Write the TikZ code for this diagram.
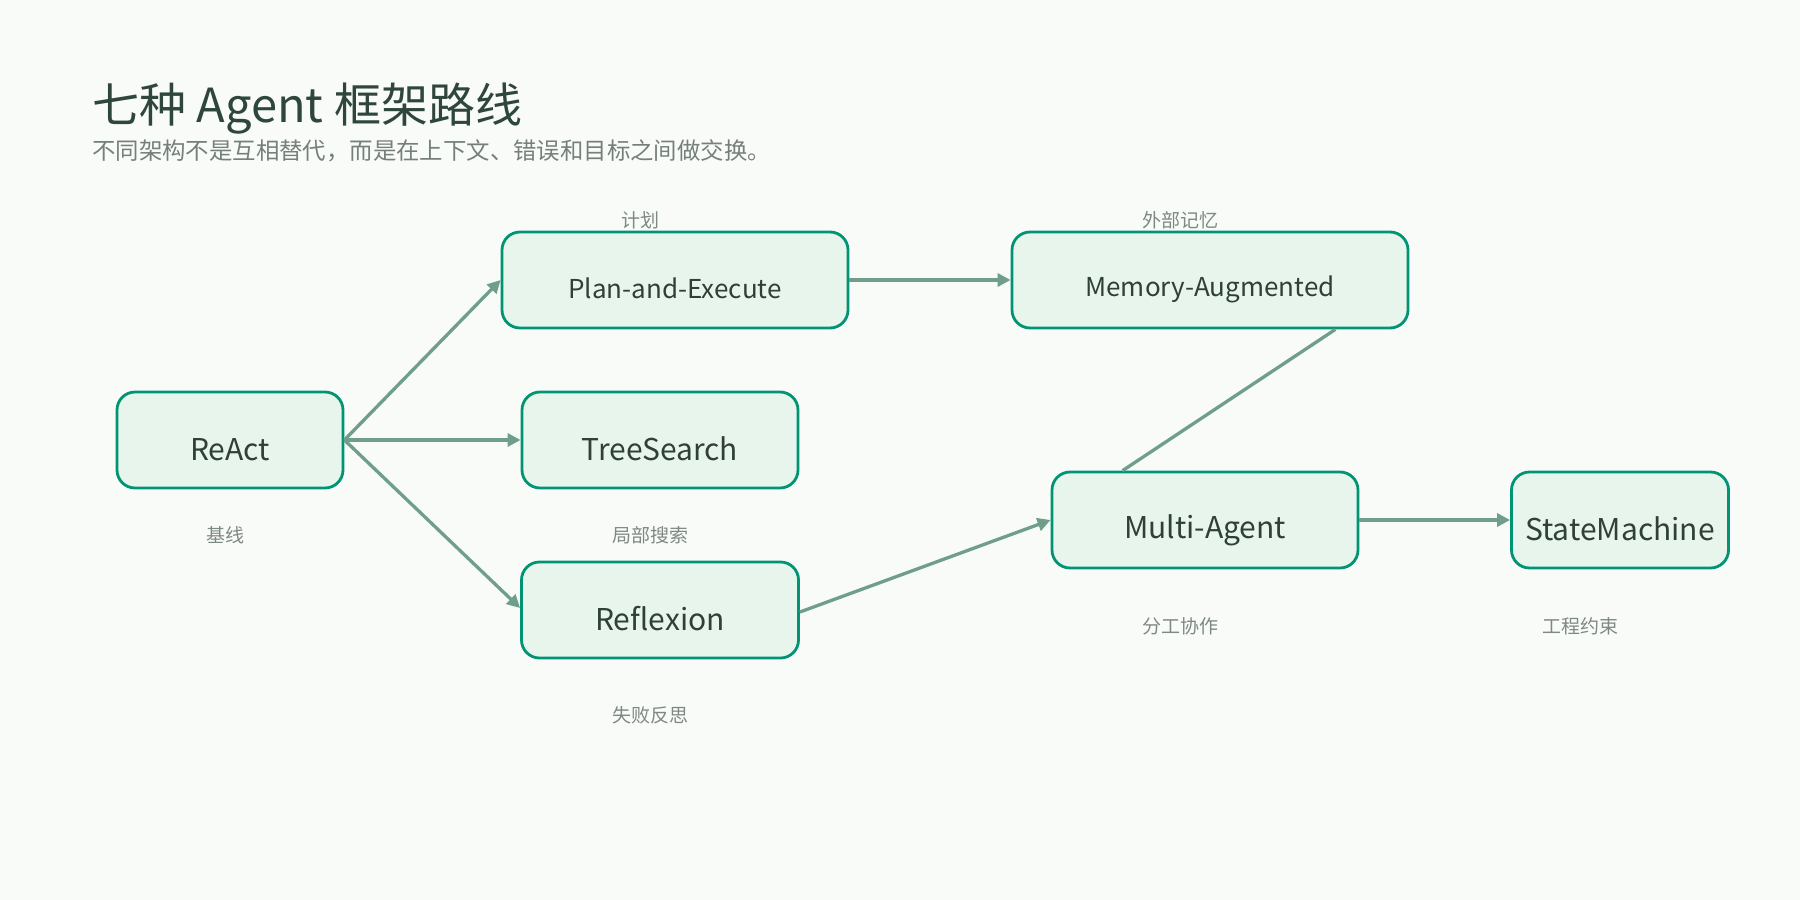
\documentclass[tikz,border=0pt]{standalone}
\usepackage{fontspec}
\setmainfont{Noto Sans CJK SC}
\usetikzlibrary{arrows.meta}
\definecolor{bgcol}{HTML}{F9FBF9}
\definecolor{boxfill}{HTML}{E8F5EC}
\definecolor{boxdraw}{HTML}{009473}
\definecolor{edgecol}{HTML}{6F9F8A}
\definecolor{txtcol}{HTML}{2F4038}
\definecolor{titlecol}{HTML}{2E463C}
\definecolor{subcol}{HTML}{75807A}
\definecolor{labcol}{HTML}{7F8984}
\begin{document}
\begin{tikzpicture}[x=1pt,y=-1pt,
  agent/.style={draw=boxdraw, fill=boxfill, line width=2.8pt, rounded corners=18pt,
    inner sep=0pt, minimum height=96pt},
  agenttext/.style={anchor=base, text=txtcol, inner sep=0pt, font=\fontsize{30}{36}\selectfont},
  agentsmall/.style={agenttext, font=\fontsize{26}{32}\selectfont},
  lab/.style={text=labcol, inner sep=0pt, font=\fontsize{19}{23}\selectfont},
  flow/.style={draw=edgecol, line width=3.3pt, -{Triangle[length=13pt,width=13pt]}},
  link/.style={draw=edgecol, line width=3.3pt}
]
\fill[bgcol] (0,0) rectangle (1800,900);
\useasboundingbox (0,0) rectangle (1800,900);

\node[anchor=base west, inner sep=0pt, text=titlecol, font=\fontsize{47}{53}\selectfont] (title) at (92,122) {七种 Agent 框架路线};
\node[anchor=base west, inner sep=0pt, text=subcol, font=\fontsize{23.4}{28}\selectfont] (subtitle) at (92,159) {不同架构不是互相替代，而是在上下文、错误和目标之间做交换。};

\node[agent, minimum width=226pt] (react) at (230,440) {};
\node[agent, minimum width=346pt] (plan) at (675,280) {};
\node[agent, minimum width=276pt] (tree) at (660,440) {};
\node[agent, minimum width=277pt] (refl) at (660,610) {};
\node[agent, minimum width=396pt] (mem) at (1210,280) {};
\node[agent, minimum width=306pt] (ma) at (1205,520) {};
\node[agent, minimum width=217pt] (sm) at (1620,520) {};

\node[agenttext] (reactT) at ([yshift=-20pt]react.center) {ReAct};
\node[agentsmall] (planT) at ([yshift=-18pt]plan.center) {Plan-and-Execute};
\node[agenttext] (treeT) at ([yshift=-20pt]tree.center) {TreeSearch};
\node[agenttext] (reflT) at ([yshift=-20pt]refl.center) {Reflexion};
\node[agentsmall] (memT) at ([yshift=-16pt]mem.center) {Memory-Augmented};
\node[agenttext] (maT) at ([yshift=-18pt]ma.center) {Multi-Agent};
\node[agenttext] (smT) at ([yshift=-20pt]sm.center) {StateMachine};

\node[lab] (l1) at (640,220) {计划};
\node[lab] (l2) at (1180,220) {外部记忆};
\node[lab] (l3) at (225,535) {基线};
\node[lab] (l4) at (650,535) {局部搜索};
\node[lab] (l5) at (650,715) {失败反思};
\node[lab] (l6) at (1180,626) {分工协作};
\node[lab] (l7) at (1580,626) {工程约束};

\draw[flow] (react.east) -- (plan.west);
\draw[flow] (react.east) -- (tree.west);
\draw[flow] (react.east) -- ([yshift=2pt]refl.west);
\draw[flow] (plan.east) -- (mem.west);
\draw[flow] ([yshift=-2pt]refl.east) -- (ma.west);
\draw[link] ([xshift=-74pt]mem.south east) -- ([xshift=72pt]ma.north west);
\draw[flow] (ma.east) -- (sm.west);
\end{tikzpicture}
\end{document}
